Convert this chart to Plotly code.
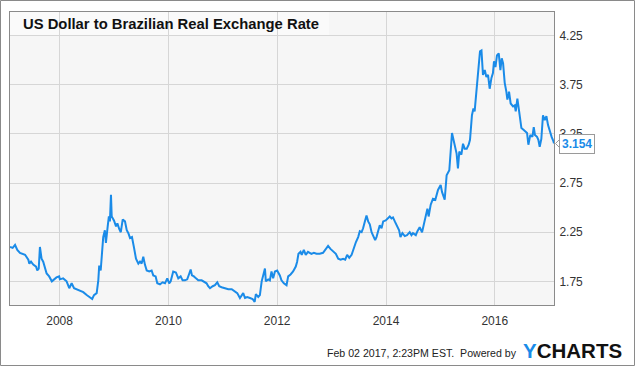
import plotly.graph_objects as go

dates = [
"2007-02-02","2007-02-20","2007-03-08","2007-03-23","2007-04-10","2007-04-27","2007-05-14","2007-06-05","2007-06-12","2007-06-23",
"2007-07-08","2007-07-27","2007-08-04","2007-08-14","2007-08-22","2007-09-02","2007-09-13","2007-10-06","2007-10-23","2007-11-10",
"2007-11-19","2007-12-11","2007-12-29","2008-01-03","2008-01-25","2008-02-17","2008-03-06","2008-03-22","2008-04-07","2008-04-25",
"2008-05-17","2008-06-08","2008-07-01","2008-07-23","2008-08-07","2008-08-19","2008-09-06","2008-09-17","2008-09-23","2008-10-03",
"2008-10-11","2008-10-20","2008-10-31","2008-11-07","2008-11-19","2008-11-27","2008-12-04","2008-12-11","2008-12-16","2008-12-31",
"2009-01-14","2009-01-23","2009-02-05","2009-02-15","2009-02-28","2009-03-15","2009-03-27","2009-04-07","2009-04-18","2009-05-01",
"2009-05-15","2009-05-28","2009-06-13","2009-06-24","2009-07-05","2009-07-16","2009-07-27","2009-08-08","2009-08-25","2009-09-10",
"2009-09-21","2009-10-07","2009-10-18","2009-11-05","2009-11-23","2009-12-09","2009-12-24","2010-01-06","2010-01-16","2010-02-02",
"2010-02-20","2010-03-08","2010-03-24","2010-04-06","2010-04-22","2010-05-07","2010-05-21","2010-05-30","2010-06-08","2010-06-21",
"2010-07-05","2010-07-20","2010-08-12","2010-08-27","2010-09-14","2010-09-25","2010-10-07","2010-10-25","2010-11-09","2010-11-25",
"2010-12-08","2010-12-24","2011-01-16","2011-02-07","2011-03-02","2011-03-24","2011-04-08","2011-04-26","2011-05-08","2011-05-18",
"2011-05-30","2011-06-14","2011-07-02","2011-07-20","2011-08-03","2011-08-11","2011-08-27","2011-09-07","2011-09-19","2011-09-29",
"2011-10-11","2011-10-17","2011-11-02","2011-11-13","2011-11-24","2011-12-05","2011-12-17","2012-01-01","2012-01-19","2012-01-30",
"2012-02-15","2012-03-04","2012-03-15","2012-03-31","2012-04-17","2012-05-05","2012-05-14","2012-05-23","2012-06-06","2012-06-14",
"2012-06-28","2012-07-11","2012-07-26","2012-08-18","2012-09-03","2012-09-21","2012-10-13","2012-11-04","2012-11-22","2012-12-08",
"2012-12-24","2013-01-11","2013-01-29","2013-02-14","2013-03-02","2013-03-19","2013-04-02","2013-04-15","2013-04-29","2013-05-15",
"2013-05-30","2013-06-13","2013-06-28","2013-07-09","2013-07-21","2013-07-31","2013-08-12","2013-08-23","2013-09-03","2013-09-14",
"2013-09-26","2013-10-06","2013-10-20","2013-10-29","2013-11-09","2013-11-20","2013-12-02","2013-12-13","2013-12-30","2014-01-15",
"2014-01-26","2014-02-07","2014-02-17","2014-03-01","2014-03-16","2014-03-30","2014-04-08","2014-04-21","2014-05-07","2014-05-22",
"2014-06-09","2014-06-21","2014-07-01","2014-07-20","2014-07-31","2014-08-15","2014-08-31","2014-09-18","2014-10-06","2014-10-14",
"2014-10-28","2014-11-12","2014-11-28","2014-12-16","2015-01-03","2015-01-12","2015-01-30","2015-02-12","2015-03-02","2015-03-20",
"2015-04-02","2015-04-11","2015-04-20","2015-04-29","2015-05-08","2015-05-22","2015-06-02","2015-06-13","2015-06-27","2015-07-10",
"2015-07-19","2015-08-01","2015-08-11","2015-08-19","2015-08-31","2015-09-11","2015-09-24","2015-10-04","2015-10-14","2015-10-26",
"2015-11-06","2015-11-17","2015-11-28","2015-12-10","2015-12-20","2015-12-27","2016-01-06","2016-01-16","2016-01-28","2016-02-08",
"2016-02-17","2016-02-26","2016-03-08","2016-03-19","2016-03-26","2016-04-06","2016-04-17","2016-05-03","2016-05-14","2016-05-21",
"2016-06-01","2016-06-12","2016-06-28","2016-07-14","2016-07-27","2016-08-05","2016-08-14","2016-08-27","2016-09-10","2016-09-19",
"2016-09-27","2016-10-11","2016-10-20","2016-10-29","2016-11-09","2016-11-20","2016-12-02","2016-12-13","2016-12-24","2017-01-05",
"2017-01-17","2017-01-28","2017-02-02",
]

rates = [
2.10,2.09,2.12,2.07,2.04,2.03,2.02,1.97,1.93,1.95,
1.92,1.90,1.86,1.88,2.10,1.98,1.95,1.83,1.80,1.75,
1.76,1.79,1.80,1.77,1.78,1.75,1.68,1.73,1.68,1.67,
1.66,1.64,1.61,1.59,1.57,1.61,1.63,1.76,1.91,1.86,
2.07,2.20,2.27,2.14,2.31,2.41,2.36,2.63,2.41,2.37,
2.31,2.34,2.28,2.25,2.38,2.36,2.27,2.24,2.19,2.20,
2.09,1.98,1.93,1.95,1.93,2.00,1.92,1.86,1.85,1.86,
1.81,1.80,1.73,1.72,1.74,1.73,1.78,1.73,1.75,1.85,
1.84,1.78,1.80,1.76,1.76,1.77,1.83,1.87,1.81,1.80,
1.78,1.76,1.76,1.75,1.73,1.70,1.68,1.70,1.71,1.74,
1.70,1.69,1.68,1.67,1.67,1.65,1.63,1.58,1.61,1.63,
1.58,1.59,1.58,1.57,1.54,1.62,1.59,1.61,1.75,1.81,
1.88,1.75,1.77,1.76,1.85,1.78,1.85,1.86,1.81,1.76,
1.73,1.71,1.80,1.82,1.85,1.90,1.95,2.03,2.05,2.02,
2.07,2.02,2.05,2.03,2.04,2.03,2.03,2.04,2.08,2.11,
2.08,2.05,2.03,1.98,1.97,1.98,1.97,2.02,1.99,2.02,
2.10,2.15,2.20,2.26,2.25,2.29,2.36,2.42,2.36,2.33,
2.25,2.21,2.17,2.20,2.27,2.32,2.29,2.36,2.37,2.39,
2.41,2.39,2.40,2.36,2.31,2.27,2.20,2.24,2.21,2.22,
2.25,2.22,2.24,2.22,2.26,2.30,2.25,2.37,2.49,2.41,
2.53,2.59,2.58,2.68,2.73,2.66,2.58,2.83,2.88,3.26,
3.17,3.09,3.05,2.90,3.07,3.04,3.15,3.10,3.10,3.14,
3.19,3.44,3.51,3.48,3.68,3.88,4.09,4.10,3.85,3.90,
3.83,3.85,3.71,3.82,3.87,3.99,3.93,4.05,4.07,3.90,
4.02,3.97,3.77,3.68,3.60,3.68,3.56,3.53,3.54,3.48,
3.61,3.49,3.31,3.29,3.27,3.26,3.14,3.24,3.22,3.32,
3.24,3.22,3.19,3.12,3.20,3.44,3.39,3.43,3.34,3.27,
3.22,3.18,3.154,
]

title_text = "US Dollar to Brazilian Real Exchange Rate"
x_tick_vals = ["2008-01-01", "2010-01-01", "2012-01-01", "2014-01-01", "2016-01-01"]
x_tick_text = ["2008", "2010", "2012", "2014", "2016"]
y_tick_vals = [1.75, 2.25, 2.75, 3.25, 3.75, 4.25]
y_tick_text = ["1.75", "2.25", "2.75", "3.25", "3.75", "4.25"]
last_label = "3.154"
footer_text = "Feb 02 2017, 2:23PM EST.  Powered by"

LINE = "#1a8be8"
W, H = 635, 366
ML, MR, MT, MB = 10, 81, 12, 61
PW, PH = W - ML - MR, H - MT - MB

def px(x):
    return (x - ML) / PW

def py(y):
    return (H - MB - y) / PH

fig = go.Figure()
fig.add_trace(go.Scatter(x=dates, y=rates, mode="lines",
                         line=dict(color=LINE, width=2), hoverinfo="skip"))

fig.update_layout(
    width=W, height=H,
    margin=dict(l=ML, r=MR, t=MT, b=MB),
    paper_bgcolor="white", plot_bgcolor="#f6f6f6",
    showlegend=False,
    font=dict(family="Liberation Sans, Arial, sans-serif", size=12, color="#333333"),
    xaxis=dict(type="date", range=["2007-02-02", "2017-02-02"],
               tickvals=x_tick_vals, ticktext=x_tick_text,
               showgrid=True, gridcolor="#d6d6d6", gridwidth=1,
               showline=True, linecolor="#8a8a8a", linewidth=1, mirror=True,
               ticks="outside", ticklen=5, tickcolor="rgba(0,0,0,0)",
               tickfont=dict(size=12, color="#333333"), zeroline=False),
    yaxis=dict(range=[1.509, 4.491], side="right",
               tickvals=y_tick_vals, ticktext=y_tick_text,
               showgrid=True, gridcolor="#d6d6d6", gridwidth=1,
               showline=True, linecolor="#8a8a8a", linewidth=1, mirror=True,
               ticks="outside", ticklen=2, tickcolor="rgba(0,0,0,0)",
               tickfont=dict(size=12, color="#333333"), zeroline=False),
)

shapes = [
    # title box
    dict(type="rect", xref="paper", yref="paper", layer="between",
         x0=0, x1=px(329), y0=py(35.5), y1=1,
         fillcolor="#fafafa", line=dict(width=0)),
    # outer frame
    dict(type="rect", xref="paper", yref="paper", layer="above",
         x0=px(0.5), x1=px(634.5), y0=py(365.5), y1=py(0.5),
         fillcolor="rgba(0,0,0,0)", line=dict(color="#8a8a8a", width=1)),
    # pointer of last-value label
    dict(type="path", xref="paper", yref="paper", layer="above",
         path=f"M {px(560)} {py(139)} L {px(555.5)} {py(143.5)} L {px(560)} {py(148)}",
         fillcolor="white", line=dict(color="#9a9a9a", width=1)),
]
fig.update_layout(shapes=shapes)

fig.add_annotation(xref="paper", yref="paper", x=px(21), y=py(24),
                   xanchor="left", yanchor="middle", showarrow=False,
                   text=f"<b>{title_text}</b>",
                   font=dict(size=14.8, color="#111111"))
fig.add_annotation(xref="paper", yref="paper", x=px(559), y=py(143.5),
                   xanchor="left", yanchor="middle", showarrow=False,
                   text=f"<b>{last_label}</b>", bgcolor="white",
                   bordercolor="#9a9a9a", borderwidth=1, borderpad=2,
                   font=dict(size=12, color=LINE))
fig.add_annotation(xref="paper", yref="paper", x=px(519), y=py(353),
                   xanchor="right", yanchor="middle", showarrow=False,
                   text=footer_text, font=dict(size=10.6, color="#222222"))
fig.add_annotation(xref="paper", yref="paper", x=px(624), y=py(350),
                   xanchor="right", yanchor="middle", showarrow=False,
                   text=f"<b><span style='color:{LINE}'>Y</span>CHARTS</b>",
                   font=dict(size=20.5, color="#111111"))

fig.write_html("out.html")
